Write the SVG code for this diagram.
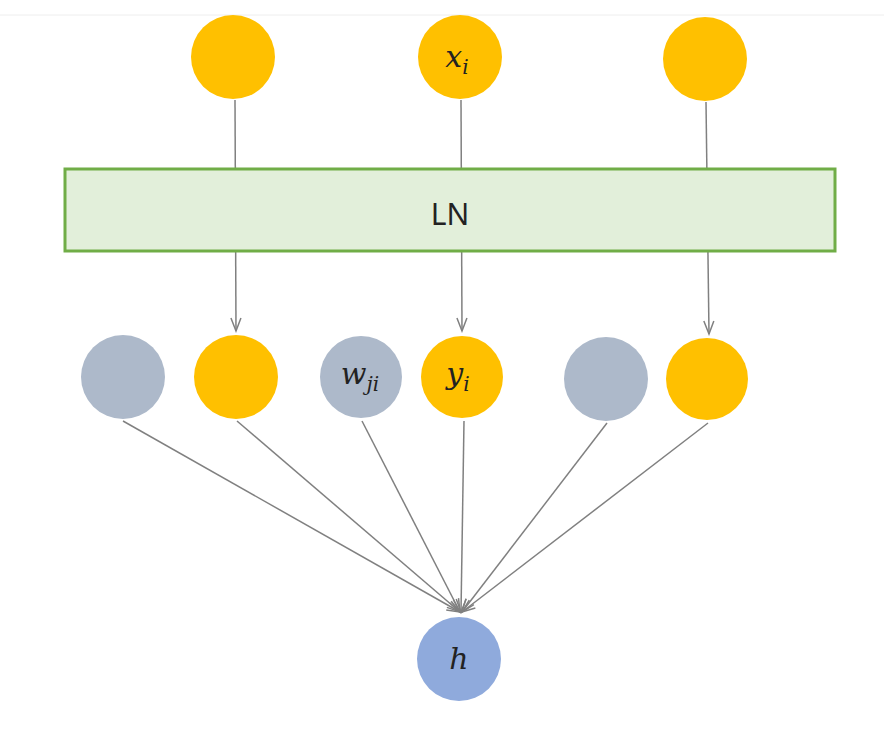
<svg xmlns="http://www.w3.org/2000/svg" width="884" height="730" viewBox="0 0 884 730">
<style>
.o{fill:#ffc000}.g{fill:#adb9ca}.b{fill:#8faadc}
.c{stroke:#808080;stroke-width:1.5;fill:none;marker-end:url(#a)}
.t{font-family:"DejaVu Serif",serif;font-style:italic;font-size:30px;fill:#222;text-anchor:middle}
.s{font-size:20px}
</style>
<defs><marker id="a" markerWidth="16" markerHeight="12" refX="14" refY="6" orient="auto" markerUnits="userSpaceOnUse"><path d="M1,1 L14,6 L1,11" fill="none" stroke="#808080" stroke-width="1.5"/></marker></defs>
<rect width="884" height="730" fill="#fff"/>
<line x1="0" y1="15" x2="884" y2="15" stroke="#eee"/>
<g id="connectors">
<line class="c" x1="235" y1="100" x2="236" y2="331"/>
<line class="c" x1="461" y1="100" x2="462" y2="331"/>
<line class="c" x1="706" y1="102" x2="709" y2="334"/>
<line class="c" x1="123" y1="421" x2="460" y2="612"/>
<line class="c" x1="237" y1="421" x2="460" y2="612"/>
<line class="c" x1="362" y1="421" x2="460" y2="612"/>
<line class="c" x1="464" y1="421" x2="461" y2="612"/>
<line class="c" x1="607" y1="423" x2="462" y2="612"/>
<line class="c" x1="708" y1="423" x2="462" y2="612"/>
</g>
<g id="ln"><rect x="65" y="169" width="770" height="82" fill="#e2efda" stroke="#70ad47" stroke-width="3"/>
<text x="450" y="225" font-family="Noto Sans,sans-serif" font-size="30" fill="#222" text-anchor="middle">LN</text></g>
<g id="x1"><circle class="o" cx="233" cy="57" r="42"/></g>
<g id="xi"><circle class="o" cx="460" cy="57" r="42"/><text class="t" x="457" y="67">x<tspan class="s" dy="7">i</tspan></text></g>
<g id="x3"><circle class="o" cx="705" cy="59" r="42"/></g>
<g id="g1"><circle class="g" cx="123" cy="377" r="42"/></g>
<g id="y1"><circle class="o" cx="236" cy="377" r="42"/></g>
<g id="w"><circle class="g" cx="361" cy="377" r="41"/><text class="t" x="360" y="384">w<tspan class="s" dy="7">ji</tspan></text></g>
<g id="yi"><circle class="o" cx="462" cy="377" r="41"/><text class="t" x="458" y="384">y<tspan class="s" dy="7">i</tspan></text></g>
<g id="g3"><circle class="g" cx="606" cy="379" r="42"/></g>
<g id="y3"><circle class="o" cx="707" cy="379" r="41"/></g>
<g id="h"><circle class="b" cx="459" cy="659" r="42"/><text class="t" x="459" y="669">h</text></g>
</svg>
